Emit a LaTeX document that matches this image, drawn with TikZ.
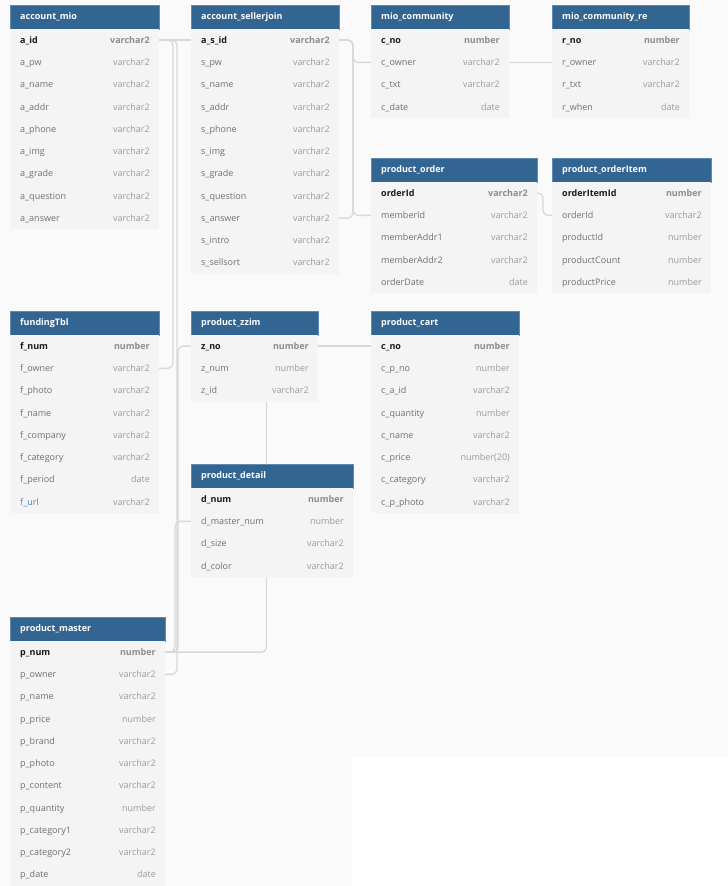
\documentclass[tikz,border=0pt]{standalone}
\usepackage{fontspec}
\setmainfont{Open Sans}
\usepackage{tikz}

\definecolor{bgcol}{RGB}{250,250,250}
\definecolor{headblue}{RGB}{50,101,146}
\definecolor{headline}{RGB}{96,138,176}
\definecolor{rowfill}{RGB}{244,244,244}
\definecolor{namegray}{RGB}{112,112,112}
\definecolor{typegray}{RGB}{155,155,155}
\definecolor{pkblack}{RGB}{25,25,25}
\definecolor{pkgray}{RGB}{140,140,140}
\definecolor{relgray}{RGB}{216,216,216}
\definecolor{urlblue}{RGB}{80,130,190}

\pgfdeclarelayer{bg}
\pgfdeclarelayer{edges}
\pgfsetlayers{bg,edges,main}

\tikzset{tblhead/.style={draw=headline, line width=1pt, fill=headblue, anchor=north west, minimum height=24pt, inner sep=0pt, outer sep=0pt},
tbltitle/.style={anchor=west, text=white, font=\bfseries\fontsize{9}{11}\selectfont, inner sep=0pt},
tblrow/.style={fill=rowfill, anchor=north west, minimum height=22.25pt, inner sep=0pt, outer sep=0pt},
colname/.style={anchor=west, text=namegray, font=\fontsize{9}{11}\selectfont, inner sep=0pt, text height=6.5pt, text depth=2pt},
coltype/.style={anchor=east, text=typegray, font=\fontsize{9}{11}\selectfont, inner sep=0pt, text height=6.5pt, text depth=2pt},
pkname/.style={text=pkblack, font=\bfseries\fontsize{9}{11}\selectfont},
pktype/.style={text=pkgray, font=\bfseries\fontsize{9}{11}\selectfont},
plainrow/.style={},
%relations between columns
rel/.style={draw=relgray, line width=1.3pt, rounded corners=5pt}}

% id, x, y, width, title, rows
\newcommand{\erdtable}[6]{
    \node[tblhead, minimum width=#4pt] (#1) at (#2,#3) {};
    \node[tbltitle] (#1-title) at ([xshift=10pt]#1.west) {#5};
    \foreach \cname/\ctype [count=\i] in {#6}{
        \ifnum\i=1 \def\nmkey{pkname}\def\tykey{pktype}\else\def\nmkey{plainrow}\def\tykey{plainrow}\fi
        \node[tblrow, minimum width=#4pt] (#1-\i) at (#2,#3+24+22.25*\i-22.25) {};
        \node[colname, \nmkey] (#1-\i-n) at ([xshift=10pt, yshift=-1pt]#1-\i.west) {\cname};
        \node[coltype, \tykey] (#1-\i-t) at ([xshift=-9pt, yshift=-1pt]#1-\i.east) {\ctype};
    }
}

\catcode`\_=12

\begin{document}
\begin{tikzpicture}[x=1pt, y=-1pt]
    \useasboundingbox (0,0) rectangle (728,886);
    \begin{pgfonlayer}{bg}
        \fill[bgcol] (0,0) rectangle (728,886);
        \fill[white] (352,758) rectangle (728,886);
    \end{pgfonlayer}

    % tables
    \erdtable{mio}{10}{5}{149}{account_mio}{a_id/varchar2, a_pw/varchar2, a_name/varchar2, a_addr/varchar2, a_phone/varchar2, a_img/varchar2, a_grade/varchar2, a_question/varchar2, a_answer/varchar2}
    \erdtable{sel}{191}{5}{148}{account_sellerjoin}{a_s_id/varchar2, s_pw/varchar2, s_name/varchar2, s_addr/varchar2, s_phone/varchar2, s_img/varchar2, s_grade/varchar2, s_question/varchar2, s_answer/varchar2, s_intro/varchar2, s_sellsort/varchar2}
    \erdtable{com}{371}{5}{138}{mio_community}{c_no/number, c_owner/varchar2, c_txt/varchar2, c_date/date}
    \erdtable{re}{552}{5}{137}{mio_community_re}{r_no/number, r_owner/varchar2, r_txt/varchar2, r_when/date}
    \erdtable{ord}{371}{158}{166}{product_order}{orderId/varchar2, memberId/varchar2, memberAddr1/varchar2, memberAddr2/varchar2, orderDate/date}
    \erdtable{item}{552}{158}{159}{product_orderItem}{orderItemId/number, orderId/varchar2, productId/number, productCount/number, productPrice/number}
    \erdtable{fund}{10}{311}{149}{fundingTbl}{f_num/number, f_owner/varchar2, f_photo/varchar2, f_name/varchar2, f_company/varchar2, f_category/varchar2, f_period/date, {\color{urlblue}f_url}/varchar2}
    \erdtable{zzim}{191}{311}{127}{product_zzim}{z_no/number, z_num/number, z_id/varchar2}
    \erdtable{cart}{371}{311}{148}{product_cart}{c_no/number, c_p_no/number, c_a_id/varchar2, c_quantity/number, c_name/varchar2, c_price/number(20), c_category/varchar2, c_p_photo/varchar2}
    \erdtable{det}{191}{464}{162}{product_detail}{d_num/number, d_master_num/number, d_size/varchar2, d_color/varchar2}
    \erdtable{master}{10}{617}{155}{product_master}{p_num/number, p_owner/varchar2, p_name/varchar2, p_price/number, p_brand/varchar2, p_photo/varchar2, p_content/varchar2, p_quantity/number, p_category1/varchar2, p_category2/varchar2, p_date/date}

    % relations
    \begin{pgfonlayer}{edges}
        \draw[rel] (mio-1.east) -- (sel-1.west);
        \draw[rel] (mio-1.east) -- ++(14,0) |- (fund-2.east);
        \draw[rel] (mio-1.east) -- ++(18,0) |- (master-2.east);
        \draw[rel] (master-1.east) -- ++(10,0) |- (det-2.west);
        \draw[rel] (master-1.east) -- ++(13,0) |- (zzim-1.west);
        \draw[rel] (master-1.east) -| ([xshift=12pt]zzim-3.south);
        \draw[rel] (zzim-1.east) -- (cart-1.west);
        \draw[rel] (sel-1.east) -- ++(14,0) |- (com-2.west);
        \draw[rel] (sel-1.east) -- ++(14,0) |- (ord-2.west);
        \draw[rel] (sel-9.east) -- ++(14,0) |- (sel-1.east);
        \draw[rel] (com-2.east) -- (re-2.west);
        \draw[rel] (ord-1.east) -- ++(6,0) |- (item-2.west);
    \end{pgfonlayer}
\end{tikzpicture}
\end{document}
